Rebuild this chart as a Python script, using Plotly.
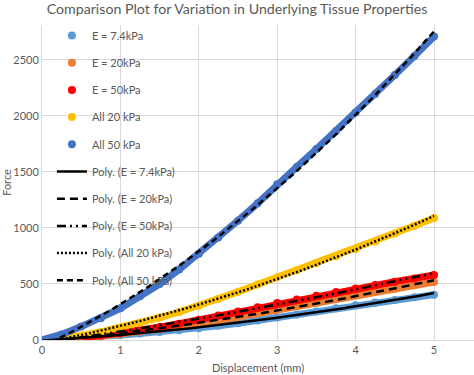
import numpy as np
import plotly.graph_objects as go

# ---- data ----
disp = [0, 0.25, 0.5, 0.75, 1, 1.25, 1.5, 1.75, 2, 2.25, 2.5, 2.75, 3,
        3.25, 3.5, 3.75, 4, 4.25, 4.5, 4.75, 5]

force_e74 = [0, 8, 18, 30, 45, 58, 72, 88, 105, 127, 150, 175, 200,
             228, 255, 283, 310, 334, 358, 382, 405]
force_e20 = [0, 8, 20, 36, 55, 75, 95, 118, 143, 173, 205, 238, 270,
             303, 335, 368, 400, 430, 458, 488, 518]
force_e50 = [0, 8, 22, 40, 60, 86, 115, 146, 180, 218, 255, 293, 330,
             362, 395, 428, 460, 490, 520, 550, 580]
force_all20 = [0, 18, 40, 72, 110, 152, 200, 250, 305, 365, 430, 495, 560,
               622, 685, 748, 812, 880, 950, 1020, 1090]
force_all50 = [0, 50, 120, 195, 283, 390, 500, 630, 770, 915, 1065, 1220, 1390,
               1545, 1705, 1865, 2030, 2195, 2365, 2535, 2710]

series_names = ["E = 7.4kPa", "E = 20kPa", "E = 50kPa", "All 20 kPa", "All 50 kPa"]
trend_names = ["Poly. (E = 7.4kPa)", "Poly. (E = 20kPa)", "Poly. (E = 50kPa)",
               "Poly. (All 20 kPa)", "Poly. (All 50 kPa)"]
series_values = [force_e74, force_e20, force_e50, force_all20, force_all50]

x_ticks = [0, 1, 2, 3, 4, 5]
y_ticks = [0, 500, 1000, 1500, 2000, 2500]

# ---- styles ----
colors = ["#5B9BD5", "#ED7D31", "#FF0000", "#FFC000", "#4472C4"]
dashes = ["solid", "8px,5px", "9px,4px,2px,4px,2px,4px", "2px,2px", "6px,4px"]
grey = "#595959"
FONT = "Lato"

fig = go.Figure()

# data bands (drawn first, as in the original)
for name, vals, col in zip(series_names, series_values, colors):
    fig.add_trace(go.Scatter(x=disp, y=vals, mode="lines",
                             line=dict(color=col, width=7),
                             showlegend=False, hoverinfo="skip"))
    fig.add_trace(go.Scatter(x=disp, y=vals, mode="markers", name=name,
                             legendgroup=name,
                             marker=dict(color=col, size=8)))

# polynomial (order 2) trendlines fitted to each series
xs = np.linspace(0, 5, 101)
for tname, vals, dash in zip(trend_names, series_values, dashes):
    coef = np.polyfit(disp, vals, 2)
    fig.add_trace(go.Scatter(x=xs, y=np.polyval(coef, xs), mode="lines",
                             name=tname, legendgroup=tname,
                             line=dict(color="black", width=2.5, dash=dash)))

axis_common = dict(showgrid=True, gridcolor="#D9D9D9", gridwidth=1,
                   zeroline=False, showline=True, linecolor="#D9D9D9",
                   ticks="", automargin=False,
                   tickfont=dict(family=FONT, size=11, color=grey))

fig.update_layout(
    width=474, height=375,
    margin=dict(l=42, r=0, t=25, b=35, autoexpand=False),
    paper_bgcolor="white", plot_bgcolor="white",
    title=dict(text="Comparison Plot for Variation in Underlying Tissue Properties",
               x=0.5, xref="container", y=0.977, yref="container",
               xanchor="center", yanchor="middle",
               font=dict(family=FONT, size=14.2, color=grey)),
    xaxis=dict(range=[0, 5.51], tickvals=x_ticks,
               title=dict(text="Displacement (mm)", standoff=9,
                          font=dict(family=FONT, size=11, color=grey)),
               **axis_common),
    yaxis=dict(range=[0, 2812], tickvals=y_ticks,
               title=dict(text="Force", standoff=4,
                          font=dict(family=FONT, size=11, color=grey)),
               **axis_common),
    legend=dict(x=0.023, y=1.0127, xanchor="left", yanchor="top",
                bgcolor="rgba(0,0,0,0)", borderwidth=0,
                tracegroupgap=8.2, maxheight=360,
                font=dict(family=FONT, size=11, color=grey)),
    showlegend=True,
)

fig.write_html("out.html", config={"displayModeBar": False},
               post_script="document.body.style.margin='0';")
